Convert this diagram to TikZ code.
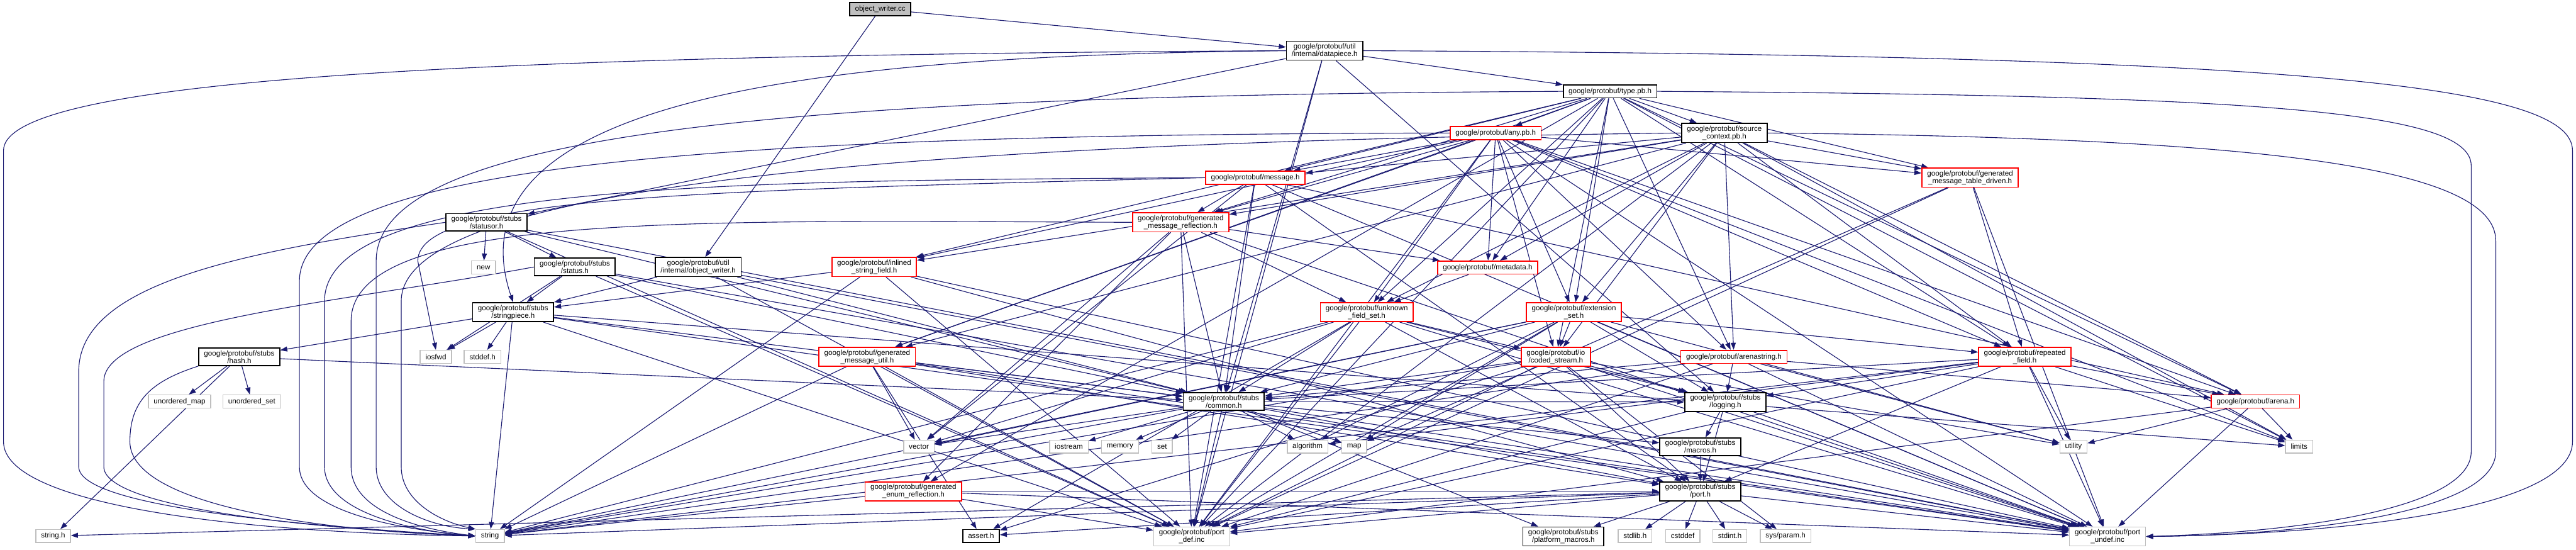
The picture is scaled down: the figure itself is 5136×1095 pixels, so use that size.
\documentclass[tikz,border=0pt]{standalone}
\usepackage{fontspec}
\setmainfont{Liberation Sans}
\usepackage{xcolor}
\usepackage{tikz}
\usetikzlibrary{arrows.meta}
\definecolor{edgecol}{HTML}{191970}
\definecolor{leafgray}{HTML}{BFBFBF}
\pgfdeclarelayer{bg}
\pgfsetlayers{bg,main}

\begin{document}
\begin{tikzpicture}[x=0.02cm,y=-0.02cm,
  font=\fontsize{8.3}{8.6}\selectfont,
  box/.style={draw=black,line width=1.2pt,fill=white,align=center,inner xsep=6pt,inner ysep=2.6pt,minimum height=0.52cm},
  rbox/.style={box,draw=red},
  gbox/.style={box,draw=leafgray,line width=1pt},
  root/.style={box,fill=leafgray},
  arr/.style={-{Triangle[length=2.8mm,width=2mm]},draw=edgecol,line width=0.8pt}]
  \useasboundingbox (0,0) rectangle (5136,1095);
  % rank 0-2
  \node[root] (root) at (1755,18) {object\_writer.cc};
  \node[box] (dp) at (2641,101) {google/protobuf/util\\/internal/datapiece.h};
  \node[box] (tp) at (3210,182) {google/protobuf/type.pb.h};
  \node[rbox] (any) at (2982,265) {google/protobuf/any.pb.h};
  \node[box] (src) at (3438,265) {google/protobuf/source\\\_context.pb.h};
  \node[rbox] (msg) at (2503,354) {google/protobuf/message.h};
  \node[rbox] (gmtd) at (3928,354) {google/protobuf/generated\\\_message\_table\_driven.h};
  \node[rbox] (gmr) at (2354,443) {google/protobuf/generated\\\_message\_reflection.h};
  \node[box] (sor) at (970,443) {google/protobuf/stubs\\/statusor.h};
  % middle ranks
  \node[gbox] (new) at (964,533) {new};
  \node[box] (sta) at (1146,532) {google/protobuf/stubs\\/status.h};
  \node[box] (owh) at (1392,532) {google/protobuf/util\\/internal/object\_writer.h};
  \node[rbox] (isf) at (1743,532) {google/protobuf/inlined\\\_string\_field.h};
  \node[rbox] (meta) at (2966,533) {google/protobuf/metadata.h};
  \node[box] (sp) at (1023,622) {google/protobuf/stubs\\/stringpiece.h};
  \node[rbox] (ufs) at (2725,622) {google/protobuf/unknown\\\_field\_set.h};
  \node[rbox] (ext) at (3138,622) {google/protobuf/extension\\\_set.h};
  \node[box] (hash) at (477,711) {google/protobuf/stubs\\/hash.h};
  \node[gbox] (iosfwd) at (869,711) {iosfwd};
  \node[gbox] (stddef) at (962,711) {stddef.h};
  \node[rbox] (gmu) at (1729,711) {google/protobuf/generated\\\_message\_util.h};
  \node[rbox] (cs) at (3102,711) {google/protobuf/io\\/coded\_stream.h};
  \node[rbox] (as) at (3457,711) {google/protobuf/arenastring.h};
  \node[rbox] (rf) at (4037,711) {google/protobuf/repeated\\\_field.h};
  \node[gbox] (umap) at (358,800) {unordered\_map};
  \node[gbox] (uset) at (502,800) {unordered\_set};
  \node[box] (common) at (2440,800) {google/protobuf/stubs\\/common.h};
  \node[box] (logging) at (3440,801) {google/protobuf/stubs\\/logging.h};
  \node[rbox] (arena) at (4497,800) {google/protobuf/arena.h};
  % lower ranks
  \node[gbox] (vector) at (1832,890) {vector};
  \node[gbox] (iostream) at (2131,890) {iostream};
  \node[gbox] (memory) at (2233,890) {memory};
  \node[gbox] (set) at (2317,890) {set};
  \node[gbox] (algorithm) at (2607,890) {algorithm};
  \node[gbox] (map) at (2700,890) {map};
  \node[box] (macros) at (3390,890) {google/protobuf/stubs\\/macros.h};
  \node[gbox] (utility) at (4134,890) {utility};
  \node[gbox] (limits) at (4584,890) {limits};
  \node[rbox] (ger) at (1821,979) {google/protobuf/generated\\\_enum\_reflection.h};
  \node[box] (port) at (3390,979) {google/protobuf/stubs\\/port.h};
  \node[gbox] (stringh) at (106,1068) {string.h};
  \node[gbox] (string) at (977,1068) {string};
  \node[box] (assert) at (1956,1068) {assert.h};
  \node[gbox] (pdef) at (2376,1069) {google/protobuf/port\\\_def.inc};
  \node[box] (platform) at (3117,1069) {google/protobuf/stubs\\/platform\_macros.h};
  \node[gbox] (stdlib) at (3260,1068) {stdlib.h};
  \node[gbox] (cstddef) at (3355,1068) {cstddef};
  \node[gbox] (stdint) at (3449,1068) {stdint.h};
  \node[gbox] (sysparam) at (3560,1068) {sys/param.h};
  \node[gbox] (pundef) at (4202,1069) {google/protobuf/port\\\_undef.inc};
  \begin{pgfonlayer}{bg}
  % object_writer.cc and its two headers
  \draw[arr] (root)--(owh); \draw[arr] (root)--(dp);
  \draw[arr] (owh)--(common); \draw[arr] (owh)--(sp); \draw[arr] (owh)--(pdef); \draw[arr] (owh)--(pundef);
  \draw[arr] (dp)--(tp); \draw[arr] (dp)--(sor); \draw[arr] (dp)--(common); \draw[arr] (dp)--(logging); \draw[arr] (dp)--(pdef);
  \draw[arr] (dp.west) .. controls (1700,110) and (880,180) .. (sp.north);
  \draw[arr] (dp.west) .. controls (900,110) and (7,160) .. (7,300) -- (7,880) .. controls (7,1010) and (500,1062) .. (string.west);
  \draw[arr] (dp.east) .. controls (4600,110) and (5129,170) .. (5129,300) -- (5129,880) .. controls (5129,1010) and (4700,1064) .. (pundef.east);
  % type.pb.h
  \draw[arr] (tp)--(any); \draw[arr] (tp)--(src); \draw[arr] (tp)--(msg); \draw[arr] (tp)--(gmtd); \draw[arr] (tp)--(gmr);
  \draw[arr] (tp)--(isf); \draw[arr] (tp)--(meta); \draw[arr] (tp)--(ufs); \draw[arr] (tp)--(ext); \draw[arr] (tp)--(gmu);
  \draw[arr] (tp)--(cs); \draw[arr] (tp)--(as); \draw[arr] (tp)--(rf); \draw[arr] (tp)--(arena); \draw[arr] (tp)--(ger);
  \draw[arr] (tp)--(limits); \draw[arr] (tp)--(pdef);
  \draw[arr] (tp.west) .. controls (1600,190) and (750,260) .. (750,520) -- (750,930) .. controls (750,1010) and (860,1050) .. (string.north west);
  \draw[arr] (tp.east) .. controls (4500,190) and (4927,220) .. (4927,330) -- (4927,900) .. controls (4927,1010) and (4600,1060) .. (pundef.east);
  % any.pb.h
  \draw[arr] (any)--(msg); \draw[arr] (any)--(gmtd); \draw[arr] (any)--(gmr); \draw[arr] (any)--(isf); \draw[arr] (any)--(meta);
  \draw[arr] (any)--(ufs); \draw[arr] (any)--(ext); \draw[arr] (any)--(gmu); \draw[arr] (any)--(cs); \draw[arr] (any)--(as);
  \draw[arr] (any)--(rf); \draw[arr] (any)--(arena); \draw[arr] (any)--(limits); \draw[arr] (any)--(pdef); \draw[arr] (any)--(pundef);
  \draw[arr] (any.west) .. controls (1500,268) and (597,320) .. (597,560) -- (597,930) .. controls (597,1020) and (800,1055) .. (string.west);
  % source_context.pb.h
  \draw[arr] (src)--(msg); \draw[arr] (src)--(gmtd); \draw[arr] (src)--(gmr); \draw[arr] (src)--(isf); \draw[arr] (src)--(meta);
  \draw[arr] (src)--(ufs); \draw[arr] (src)--(ext); \draw[arr] (src)--(gmu); \draw[arr] (src)--(cs); \draw[arr] (src)--(as);
  \draw[arr] (src)--(rf); \draw[arr] (src)--(arena); \draw[arr] (src)--(limits); \draw[arr] (src)--(pdef);
  \draw[arr] (src.west) .. controls (1700,285) and (800,380) .. (800,600) -- (800,930) .. controls (800,1000) and (880,1040) .. (string.north west);
  \draw[arr] (src.east) .. controls (4500,275) and (4976,330) .. (4976,480) -- (4976,900) .. controls (4976,1020) and (4600,1066) .. (pundef.east);
  % message.h, reflection, table driven
  \draw[arr] (msg)--(gmr); \draw[arr] (msg)--(vector); \draw[arr] (msg)--(common);
  \draw[arr] (msg)--(arena); \draw[arr] (msg)--(port); \draw[arr] (msg)--(pdef); \draw[arr] (msg)--(pundef);
  \draw[arr] (msg.west) .. controls (1500,360) and (647,360) .. (647,600) -- (647,930) .. controls (647,1020) and (820,1058) .. (string.west);
  \draw[arr] (msg.west) .. controls (1400,380) and (833,390) .. (833,520) -- (iosfwd.north);
  \draw[arr] (gmr)--(meta); \draw[arr] (gmr)--(ger); \draw[arr] (gmr)--(ufs); \draw[arr] (gmr)--(vector);
  \draw[arr] (gmr)--(common); \draw[arr] (gmr)--(pdef); \draw[arr] (gmr)--(pundef);
  \draw[arr] (gmr.west) .. controls (1400,440) and (700,420) .. (700,640) -- (700,930) .. controls (700,1020) and (840,1055) .. (string.west);
  \draw[arr] (gmtd)--(rf); \draw[arr] (gmtd)--(map); \draw[arr] (gmtd)--(pdef); \draw[arr] (gmtd)--(pundef);
  % stubs
  \draw[arr] (sor)--(new); \draw[arr] (sor)--(sta); \draw[arr] (sor)--(common); \draw[arr] (sor)--(pdef); \draw[arr] (sor)--(pundef);
  \draw[arr] (sor.west) .. controls (500,500) and (157,560) .. (157,740) -- (157,930) .. controls (157,1010) and (600,1048) .. (string.west);
  \draw[arr] (sta)--(sp); \draw[arr] (sta)--(iosfwd); \draw[arr] (sta)--(common); \draw[arr] (sta)--(pdef); \draw[arr] (sta)--(pundef);
  \draw[arr] (sta.west) .. controls (700,600) and (207,640) .. (207,760) -- (207,930) .. controls (207,1010) and (600,1052) .. (string.west);
  \draw[arr] (sp)--(hash); \draw[arr] (sp)--(iosfwd); \draw[arr] (sp)--(stddef); \draw[arr] (sp)--(string); \draw[arr] (sp)--(common);
  \draw[arr] (sp)--(limits); \draw[arr] (sp)--(pdef); \draw[arr] (sp)--(pundef);
  \draw[arr] (hash)--(umap); \draw[arr] (hash)--(uset); \draw[arr] (hash)--(stringh); \draw[arr] (hash)--(common);
  \draw[arr] (hash.south west) .. controls (300,760) and (259,800) .. (259,880) .. controls (259,1000) and (600,1056) .. (string.west);
  % inlined string, metadata, unknown fields, extensions
  \draw[arr] (isf)--(sp); \draw[arr] (isf)--(string); \draw[arr] (isf)--(port); \draw[arr] (isf)--(pdef); \draw[arr] (isf)--(pundef);
  \draw[arr] (meta)--(ufs);
  \draw[arr] (ufs)--(cs); \draw[arr] (ufs)--(logging); \draw[arr] (ufs)--(common); \draw[arr] (ufs)--(vector); \draw[arr] (ufs)--(string);
  \draw[arr] (ufs)--(assert); \draw[arr] (ufs)--(port); \draw[arr] (ufs)--(pdef); \draw[arr] (ufs)--(pundef);
  \draw[arr] (ext)--(cs); \draw[arr] (ext)--(rf); \draw[arr] (ext)--(logging); \draw[arr] (ext)--(common); \draw[arr] (ext)--(algorithm);
  \draw[arr] (ext)--(map); \draw[arr] (ext)--(utility); \draw[arr] (ext)--(vector); \draw[arr] (ext)--(string); \draw[arr] (ext)--(pdef); \draw[arr] (ext)--(pundef);
  % generated_message_util.h, coded_stream.h, arenastring.h, repeated_field.h
  \draw[arr] (gmu)--(vector); \draw[arr] (gmu)--(assert); \draw[arr] (gmu)--(string); \draw[arr] (gmu)--(common);
  \draw[arr] (gmu)--(port); \draw[arr] (gmu)--(pdef); \draw[arr] (gmu)--(pundef);
  \draw[arr] (cs)--(logging); \draw[arr] (cs)--(common); \draw[arr] (cs)--(port); \draw[arr] (cs)--(assert); \draw[arr] (cs)--(string);
  \draw[arr] (cs)--(utility); \draw[arr] (cs)--(sysparam); \draw[arr] (cs)--(pdef); \draw[arr] (cs)--(pundef);
  \draw[arr] (as)--(logging); \draw[arr] (as)--(common); \draw[arr] (as)--(arena); \draw[arr] (as)--(string); \draw[arr] (as)--(utility);
  \draw[arr] (as)--(pdef); \draw[arr] (as)--(pundef);
  \draw[arr] (rf)--(arena); \draw[arr] (rf)--(utility); \draw[arr] (rf)--(limits); \draw[arr] (rf)--(logging); \draw[arr] (rf)--(common);
  \draw[arr] (rf)--(algorithm); \draw[arr] (rf)--(string); \draw[arr] (rf)--(port); \draw[arr] (rf)--(pdef); \draw[arr] (rf)--(pundef);
  % common.h, logging.h, arena.h
  \draw[arr] (common)--(vector); \draw[arr] (common)--(iostream); \draw[arr] (common)--(memory); \draw[arr] (common)--(set);
  \draw[arr] (common)--(algorithm); \draw[arr] (common)--(map); \draw[arr] (common)--(string); \draw[arr] (common)--(logging);
  \draw[arr] (common)--(macros); \draw[arr] (common)--(port); \draw[arr] (common)--(platform); \draw[arr] (common)--(pdef); \draw[arr] (common)--(pundef);
  \draw[arr] (logging)--(macros); \draw[arr] (logging)--(port); \draw[arr] (logging)--(pdef); \draw[arr] (logging)--(pundef);
  \draw[arr] (arena)--(utility); \draw[arr] (arena)--(limits); \draw[arr] (arena)--(pdef); \draw[arr] (arena)--(pundef);
  % port level
  \draw[arr] (macros)--(port); \draw[arr] (ger)--(string); \draw[arr] (ger)--(port); \draw[arr] (ger)--(pdef); \draw[arr] (ger)--(pundef);
  \draw[arr] (port)--(platform); \draw[arr] (port)--(stdlib); \draw[arr] (port)--(cstddef); \draw[arr] (port)--(stdint); \draw[arr] (port)--(sysparam);
  \draw[arr] (port)--(assert); \draw[arr] (port)--(string); \draw[arr] (port)--(stringh); \draw[arr] (port)--(pdef); \draw[arr] (port)--(pundef);
  \end{pgfonlayer}
\end{tikzpicture}
\end{document}
